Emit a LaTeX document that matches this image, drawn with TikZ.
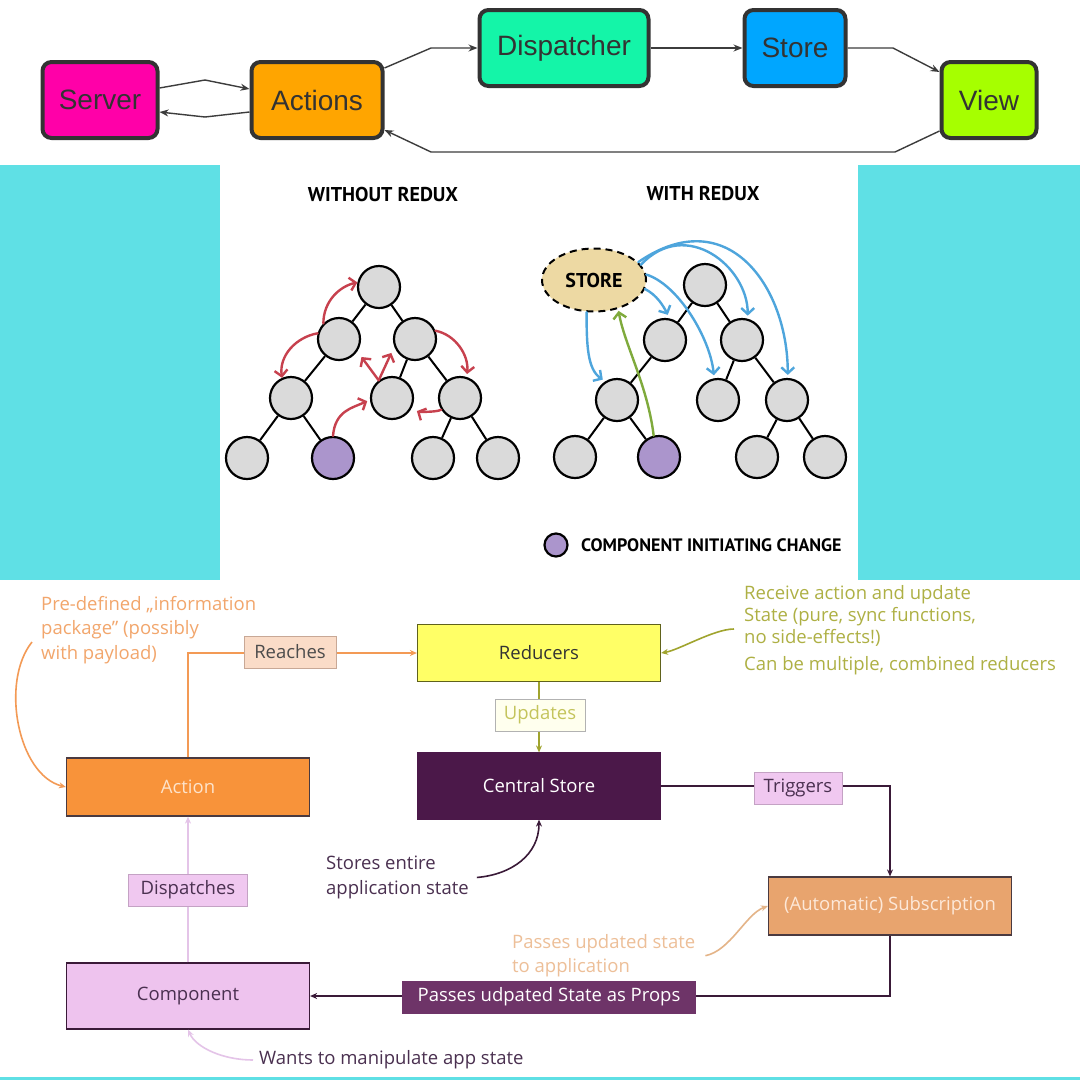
\documentclass[tikz,border=0pt]{standalone}
\usepackage{fontspec}
\setmainfont{Open Sans}
\newfontfamily\topfont{Liberation Sans}
\newfontfamily\handfont{PT Sans}
\usetikzlibrary{arrows.meta,shapes.geometric}
\definecolor{cyanbg}{HTML}{5FE0E5}
\definecolor{topline}{HTML}{333333}
\definecolor{toptext}{HTML}{333333}
\definecolor{cServer}{HTML}{FF00A8}
\definecolor{cActions}{HTML}{FFA500}
\definecolor{cDisp}{HTML}{14F5A8}
\definecolor{cStore}{HTML}{00A6FF}
\definecolor{cView}{HTML}{A6FF00}
\definecolor{arrline}{HTML}{3C3C3C}
\definecolor{nodegray}{HTML}{DADADA}
\definecolor{purp}{HTML}{AB95CC}
\definecolor{redarr}{HTML}{C7414E}
\definecolor{bluearr}{HTML}{4EA5DC}
\definecolor{greenarr}{HTML}{7FAA3C}
\definecolor{storefill}{HTML}{EDD9A3}
\definecolor{orangetxt}{HTML}{F2A66C}
\definecolor{olivetxt}{HTML}{AEB044}
\definecolor{oliveline}{HTML}{A0A42E}
\definecolor{orangeline}{HTML}{F39A55}
\definecolor{reachfill}{HTML}{FADCC8}
\definecolor{reachdraw}{HTML}{C8A896}
\definecolor{actfill}{HTML}{F8933A}
\definecolor{acttext}{HTML}{FDE3CB}
\definecolor{redfill}{HTML}{FFFF66}
\definecolor{updfill}{HTML}{FFFFEE}
\definecolor{updtext}{HTML}{C4C45C}
\definecolor{csfill}{HTML}{4B1849}
\definecolor{pinkfill}{HTML}{F0C8F0}
\definecolor{pinkdraw}{HTML}{C4A2C4}
\definecolor{subfill}{HTML}{E8A46E}
\definecolor{subtext}{HTML}{FDE8D8}
\definecolor{compfill}{HTML}{EEC3EE}
\definecolor{darkpurp}{HTML}{4A3050}
\definecolor{passfill}{HTML}{6E3468}
\definecolor{darkline}{HTML}{3A1A38}
\definecolor{displine}{HTML}{E4C4E8}
\definecolor{tantxt}{HTML}{EDBF98}
\definecolor{tanline}{HTML}{E4B488}
\definecolor{boxdraw}{HTML}{4A3A40}
\begin{document}
\begin{tikzpicture}[x=1pt,y=-1pt,
  topbox/.style={draw=topline, line width=4pt, rounded corners=9pt, minimum height=76pt,
    inner sep=0pt, text=toptext, font=\topfont\fontsize{28}{30}\selectfont},
  toparr/.style={draw=arrline, line width=1.4pt, -{Stealth[length=9pt,width=7pt]}},
  tnode/.style={circle, draw=black, line width=2.2pt, fill=nodegray, minimum size=42pt, inner sep=0pt},
  tedge/.style={draw=black, line width=2pt},
  sk/.style={line width=2.4pt, line cap=round, -{Straight Barb[length=6pt,width=13pt]}},
  hand/.style={font=\handfont\bfseries\fontsize{20}{22}\selectfont, text=black},
  bfont/.style={font=\fontsize{18.5}{22}\selectfont},
  bbox/.style={draw=boxdraw, line width=1.2pt, minimum width=243pt, inner sep=0pt, bfont},
  lab/.style={draw, line width=1pt, inner sep=0pt, minimum height=32pt, bfont},
  note/.style={anchor=north west, inner sep=0pt, align=left, font=\fontsize{18.5}{24.5}\selectfont},
  barr/.style={-{Stealth[length=7pt,width=6pt]}}
]
\useasboundingbox (0,0) rectangle (1080,1080);
\fill[white] (0,0) rectangle (1080,1080);
\fill[cyanbg] (0,165) rectangle (220,580);
\fill[cyanbg] (858,165) rectangle (1080,580);
\fill[cyanbg] (0,1077) rectangle (1080,1080);

% ---------------- top panel ----------------
\node[topbox, fill=cServer, minimum width=115pt] (server) at (100,100) {Server};
\node[topbox, fill=cActions, minimum width=131pt] (actions) at (317,100) {Actions};
\node[topbox, fill=cDisp, minimum width=169pt] (disp) at (564,48) {Dispatcher};
\node[topbox, fill=cStore, minimum width=101pt] (store) at (795,48) {Store};
\node[topbox, fill=cView, minimum width=95pt] (view) at (989,100) {View};

\draw[toparr] ([yshift=12pt]server.east) -- (205,80) -- ([yshift=11pt]actions.west);
\draw[toparr] ([yshift=-12pt]actions.west) -- (205,117) -- ([yshift=-12pt]server.east);
\draw[toparr] ([yshift=-8pt]actions.north east) -- (431,48) -- (disp.west);
\draw[toparr] (disp.east) -- (store.west);
\draw[toparr] (store.east) -- (893,48) -- ([yshift=-12pt]view.north west);
\draw[toparr] ([yshift=9pt]view.south west) -- (895,152) -- (431,152) -- ([yshift=10pt]actions.south east);

% ---------------- middle panel ----------------
\node[hand] (t1) at (383,194) {WITHOUT REDUX};
\node[hand] (t2) at (703,194) {WITH REDUX};

% left tree
\node[tnode] (L0) at (379,287) {};
\node[tnode] (L1a) at (339,339) {};
\node[tnode] (L1b) at (415,339) {};
\node[tnode] (L2a) at (291,398) {};
\node[tnode] (L2b) at (392,398) {};
\node[tnode] (L2c) at (460,398) {};
\node[tnode] (L3a) at (247,458) {};
\node[tnode, fill=purp] (L3b) at (333,458) {};
\node[tnode] (L3c) at (433,458) {};
\node[tnode] (L3d) at (498,458) {};
\draw[tedge] (L0)--(L1a) (L0)--(L1b) (L1a)--(L2a) (L1b)--(L2b) (L1b)--(L2c)
  (L2a)--(L3a) (L2a)--(L3b) (L2c)--(L3c) (L2c)--(L3d);

\draw[sk, redarr] (L1a.135) .. controls +(0,-22) and +(-18,4) .. (L0.168);
\draw[sk, redarr] (L1a.165) .. controls +(-22,4) and +(-3,-22) .. (L2a.114);
\draw[sk, redarr, shorten >=7pt] (L2b.127) -- (L1a.-34);
\draw[sk, redarr, shorten >=7pt] (L2b.127) -- (L1b.200);
\draw[sk, redarr, shorten >=3pt] (L1b.22) .. controls +(20,4) and +(2,-22) .. (L2c.72);
\draw[sk, redarr, shorten >=3pt] (L3b.90) .. controls +(2,-25) and +(-18,8) .. (L2b.185);
\draw[sk, redarr, shorten >=6pt] (L2c.212) .. controls +(-6,3) and +(6,3) .. (L2b.-28);

% right tree
\node[tnode] (R0) at (705,285) {};
\node[tnode] (R1a) at (665,340) {};
\node[tnode] (R1b) at (742,340) {};
\node[tnode] (R2a) at (617,400) {};
\node[tnode] (R2b) at (718,400) {};
\node[tnode] (R2c) at (787,400) {};
\node[tnode] (R3a) at (575,457) {};
\node[tnode, fill=purp] (R3b) at (659,457) {};
\node[tnode] (R3c) at (757,457) {};
\node[tnode] (R3d) at (825,457) {};
\draw[tedge] (R0)--(R1a) (R0)--(R1b) (R1a)--(R2a) (R1b)--(R2b) (R1b)--(R2c)
  (R2a)--(R3a) (R2a)--(R3b) (R2c)--(R3c) (R2c)--(R3d);

\node[ellipse, draw=black, line width=2pt, dash pattern=on 7pt off 5pt, fill=storefill,
  minimum width=104pt, minimum height=63pt, inner sep=0pt, hand] (S) at (594,280) {STORE};

\draw[sk, bluearr, shorten >=3pt] (S.257) .. controls +(0,32) and +(-18,-12) .. (R2a.122);
\draw[sk, bluearr, shorten >=4pt] (S.-10) .. controls +(12,6) and +(-6,-12) .. (R1a.78);
\draw[sk, bluearr, shorten >=3pt] (S.6) .. controls +(32,10) and +(-4,-40) .. (R2b.100);
\draw[sk, bluearr, shorten >=3pt] (S.18) .. controls +(45,-48) and +(0,-52) .. (R1b.75);
\draw[sk, bluearr, shorten >=3pt] (S.22) .. controls +(90,-62) and +(0,-90) .. (R2c.88);
\draw[sk, greenarr, shorten >=2pt] (R3b.104) .. controls +(-6,-50) and +(6,35) .. (S.-50);

\node[tnode, fill=purp, minimum size=23pt] (leg) at (556,545) {};
\node[anchor=west, inner sep=0pt, font=\handfont\bfseries\fontsize{18}{20}\selectfont] (legtxt) at (581,545) {COMPONENT INITIATING CHANGE};

% ---------------- bottom panel ----------------
\node[bbox, fill=actfill, text=acttext, minimum height=58pt] (action) at (188,787) {Action};
\node[bbox, fill=redfill, text=toptext, draw=oliveline!60!black, minimum height=57pt] (reducers) at (539,653) {Reducers};
\node[bbox, fill=csfill, draw=csfill, text=white, minimum height=66pt] (central) at (539,786) {Central Store};
\node[bbox, fill=subfill, text=subtext, minimum height=58pt] (sub) at (890,906) {(Automatic) Subscription};
\node[bbox, fill=compfill, text=darkpurp, draw=darkline, minimum height=66pt] (comp) at (188,996) {Component};

% connectors
\draw[orangeline, line width=1.5pt, barr] (action.north) |- (reducers.west);
\draw[oliveline, line width=1.8pt, barr] (reducers.south) -- (central.north);
\draw[darkline, line width=1.8pt, barr] (central.east) -| (sub.north);
\draw[darkline, line width=1.8pt, barr] (sub.south) |- (comp.east);
\draw[displine, line width=1.8pt, barr] (comp.north) -- (action.south);

% labels
\node[lab, fill=reachfill, draw=reachdraw, text=black!70, minimum width=92pt] (reaches) at (290,652) {Reaches};
\node[lab, fill=updfill, draw=black!30, text=updtext, minimum width=90pt] (updates) at (540,715) {Updates};
\node[lab, fill=pinkfill, draw=pinkdraw, text=darkpurp, minimum width=88pt] (triggers) at (798,788) {Triggers};
\node[lab, fill=pinkfill, draw=pinkdraw, text=darkpurp, minimum width=119pt] (dispatches) at (188,890) {Dispatches};
\node[lab, fill=passfill, draw=passfill, text=white, minimum width=293pt] (passes) at (549,997) {Passes udpated State as Props};

% notes
\node[note, text=orangetxt] (n1) at (41,596) {Pre-defined „information\\package" (possibly\\with payload)};
\draw[orangeline, line width=1.6pt, barr] ([xshift=-9pt,yshift=-12pt]n1.west) .. controls +(-32,40) and +(-48,-12) .. (action.west);

\node[note, text=olivetxt, font=\fontsize{18.5}{22}\selectfont] (n2) at (744,585) {Receive action and update\\State (pure, sync functions,\\no side-effects!)\\[5pt]Can be multiple, combined reducers};
\draw[oliveline, line width=1.6pt, barr] ([xshift=-10pt,yshift=-44pt]n2.north west) .. controls +(-20,0) and +(18,-3) .. (reducers.east);

\node[note, text=darkpurp] (n3) at (326,856) {Stores entire\\application state};
\draw[darkline, line width=1.6pt, barr] ([xshift=8pt]n3.east) .. controls +(35,-3) and +(0,35) .. (central.south);

\node[note, text=tantxt] (n4) at (512,934) {Passes updated state\\to application};
\draw[tanline, line width=1.6pt, barr] ([xshift=10pt]n4.east) .. controls +(25,-5) and +(-22,8) .. (sub.west);

\node[anchor=west, inner sep=0pt, text=darkpurp, font=\fontsize{18.5}{22}\selectfont] (n5) at (259,1060) {Wants to manipulate app state};
\draw[displine, line width=1.6pt, barr] ([xshift=-6pt]n5.west) .. controls +(-30,0) and +(8,18) .. (comp.south);
\end{tikzpicture}
\end{document}
